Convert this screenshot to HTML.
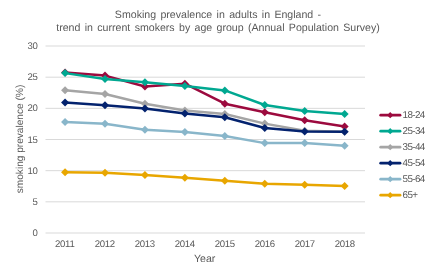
<!DOCTYPE html><html><head><meta charset="utf-8"><style>html,body{margin:0;padding:0;background:#fff;}svg{display:block;will-change:transform;}text{font-family:"Liberation Sans",sans-serif;fill:#595959;text-rendering:geometricPrecision;}</style></head><body>
<svg width="435" height="276" viewBox="0 0 435 276">
<rect width="435" height="276" fill="#fff"/>
<text x="218" y="17.8" font-size="10.6" text-anchor="middle" word-spacing="1.4">Smoking prevalence in adults in England -</text>
<text x="218" y="30.9" font-size="10.6" text-anchor="middle" word-spacing="1.4">trend in current smokers by age group (Annual Population Survey)</text>
<line x1="45.5" x2="365.0" y1="233.00" y2="233.00" stroke="#D9D9D9" stroke-width="1"/>
<text x="37.6" y="236.00" font-size="9.6" letter-spacing="-0.3" text-anchor="end">0</text>
<line x1="45.5" x2="365.0" y1="201.84" y2="201.84" stroke="#D9D9D9" stroke-width="1"/>
<text x="37.6" y="204.84" font-size="9.6" letter-spacing="-0.3" text-anchor="end">5</text>
<line x1="45.5" x2="365.0" y1="170.67" y2="170.67" stroke="#D9D9D9" stroke-width="1"/>
<text x="37.6" y="173.67" font-size="9.6" letter-spacing="-0.3" text-anchor="end">10</text>
<line x1="45.5" x2="365.0" y1="139.50" y2="139.50" stroke="#D9D9D9" stroke-width="1"/>
<text x="37.6" y="142.50" font-size="9.6" letter-spacing="-0.3" text-anchor="end">15</text>
<line x1="45.5" x2="365.0" y1="108.34" y2="108.34" stroke="#D9D9D9" stroke-width="1"/>
<text x="37.6" y="111.34" font-size="9.6" letter-spacing="-0.3" text-anchor="end">20</text>
<line x1="45.5" x2="365.0" y1="77.18" y2="77.18" stroke="#D9D9D9" stroke-width="1"/>
<text x="37.6" y="80.18" font-size="9.6" letter-spacing="-0.3" text-anchor="end">25</text>
<line x1="45.5" x2="365.0" y1="46.01" y2="46.01" stroke="#D9D9D9" stroke-width="1"/>
<text x="37.6" y="49.01" font-size="9.6" letter-spacing="-0.3" text-anchor="end">30</text>
<text x="64.75" y="247.0" font-size="9.6" letter-spacing="-0.3" text-anchor="middle">2011</text>
<text x="104.75" y="247.0" font-size="9.6" letter-spacing="-0.3" text-anchor="middle">2012</text>
<text x="144.75" y="247.0" font-size="9.6" letter-spacing="-0.3" text-anchor="middle">2013</text>
<text x="184.75" y="247.0" font-size="9.6" letter-spacing="-0.3" text-anchor="middle">2014</text>
<text x="224.75" y="247.0" font-size="9.6" letter-spacing="-0.3" text-anchor="middle">2015</text>
<text x="264.75" y="247.0" font-size="9.6" letter-spacing="-0.3" text-anchor="middle">2016</text>
<text x="304.75" y="247.0" font-size="9.6" letter-spacing="-0.3" text-anchor="middle">2017</text>
<text x="344.75" y="247.0" font-size="9.6" letter-spacing="-0.3" text-anchor="middle">2018</text>
<text x="204.6" y="261.8" font-size="10.6" text-anchor="middle">Year</text>
<text transform="translate(23.4,193.2) rotate(-90)" x="0" y="0" font-size="10.1">smoking prevalence</text>
<text transform="translate(23.4,100.6) rotate(-90)" x="0" y="0" font-size="10.4">(%)</text>
<polyline points="65.07,72.44 105.01,75.62 144.94,86.52 184.88,83.72 224.82,103.67 264.76,112.20 304.69,120.18 344.63,126.42" fill="none" stroke="#9C0A3E" stroke-width="2.5" stroke-linejoin="round" stroke-linecap="round"/>
<path d="M65.07 68.44L69.07 72.44L65.07 76.44L61.07 72.44Z" fill="#9C0A3E"/>
<path d="M105.01 71.62L109.01 75.62L105.01 79.62L101.01 75.62Z" fill="#9C0A3E"/>
<path d="M144.94 82.52L148.94 86.52L144.94 90.52L140.94 86.52Z" fill="#9C0A3E"/>
<path d="M184.88 79.72L188.88 83.72L184.88 87.72L180.88 83.72Z" fill="#9C0A3E"/>
<path d="M224.82 99.67L228.82 103.67L224.82 107.67L220.82 103.67Z" fill="#9C0A3E"/>
<path d="M264.76 108.20L268.76 112.20L264.76 116.20L260.76 112.20Z" fill="#9C0A3E"/>
<path d="M304.69 116.18L308.69 120.18L304.69 124.18L300.69 120.18Z" fill="#9C0A3E"/>
<path d="M344.63 122.42L348.63 126.42L344.63 130.42L340.63 126.42Z" fill="#9C0A3E"/>
<polyline points="65.07,73.12 105.01,79.04 144.94,82.16 184.88,85.90 224.82,90.45 264.76,105.04 304.69,111.02 344.63,113.95" fill="none" stroke="#00A891" stroke-width="2.5" stroke-linejoin="round" stroke-linecap="round"/>
<path d="M65.07 69.12L69.07 73.12L65.07 77.12L61.07 73.12Z" fill="#00A891"/>
<path d="M105.01 75.04L109.01 79.04L105.01 83.04L101.01 79.04Z" fill="#00A891"/>
<path d="M144.94 78.16L148.94 82.16L144.94 86.16L140.94 82.16Z" fill="#00A891"/>
<path d="M184.88 81.90L188.88 85.90L184.88 89.90L180.88 85.90Z" fill="#00A891"/>
<path d="M224.82 86.45L228.82 90.45L224.82 94.45L220.82 90.45Z" fill="#00A891"/>
<path d="M264.76 101.04L268.76 105.04L264.76 109.04L260.76 105.04Z" fill="#00A891"/>
<path d="M304.69 107.02L308.69 111.02L304.69 115.02L300.69 111.02Z" fill="#00A891"/>
<path d="M344.63 109.95L348.63 113.95L344.63 117.95L340.63 113.95Z" fill="#00A891"/>
<polyline points="65.07,90.26 105.01,94.00 144.94,103.79 184.88,110.58 224.82,113.95 264.76,123.61 304.69,130.78 344.63,131.71" fill="none" stroke="#A5A5A5" stroke-width="2.5" stroke-linejoin="round" stroke-linecap="round"/>
<path d="M65.07 86.26L69.07 90.26L65.07 94.26L61.07 90.26Z" fill="#A5A5A5"/>
<path d="M105.01 90.00L109.01 94.00L105.01 98.00L101.01 94.00Z" fill="#A5A5A5"/>
<path d="M144.94 99.79L148.94 103.79L144.94 107.79L140.94 103.79Z" fill="#A5A5A5"/>
<path d="M184.88 106.58L188.88 110.58L184.88 114.58L180.88 110.58Z" fill="#A5A5A5"/>
<path d="M224.82 109.95L228.82 113.95L224.82 117.95L220.82 113.95Z" fill="#A5A5A5"/>
<path d="M264.76 119.61L268.76 123.61L264.76 127.61L260.76 123.61Z" fill="#A5A5A5"/>
<path d="M304.69 126.78L308.69 130.78L304.69 134.78L300.69 130.78Z" fill="#A5A5A5"/>
<path d="M344.63 127.71L348.63 131.71L344.63 135.71L340.63 131.71Z" fill="#A5A5A5"/>
<polyline points="65.07,102.61 105.01,105.22 144.94,108.53 184.88,113.39 224.82,117.19 264.76,127.97 304.69,131.40 344.63,131.71" fill="none" stroke="#03226E" stroke-width="2.5" stroke-linejoin="round" stroke-linecap="round"/>
<path d="M65.07 98.61L69.07 102.61L65.07 106.61L61.07 102.61Z" fill="#03226E"/>
<path d="M105.01 101.22L109.01 105.22L105.01 109.22L101.01 105.22Z" fill="#03226E"/>
<path d="M144.94 104.53L148.94 108.53L144.94 112.53L140.94 108.53Z" fill="#03226E"/>
<path d="M184.88 109.39L188.88 113.39L184.88 117.39L180.88 113.39Z" fill="#03226E"/>
<path d="M224.82 113.19L228.82 117.19L224.82 121.19L220.82 117.19Z" fill="#03226E"/>
<path d="M264.76 123.97L268.76 127.97L264.76 131.97L260.76 127.97Z" fill="#03226E"/>
<path d="M304.69 127.40L308.69 131.40L304.69 135.40L300.69 131.40Z" fill="#03226E"/>
<path d="M344.63 127.71L348.63 131.71L344.63 135.71L340.63 131.71Z" fill="#03226E"/>
<polyline points="65.07,121.93 105.01,123.80 144.94,129.84 184.88,131.90 224.82,136.08 264.76,143.12 304.69,143.12 344.63,145.74" fill="none" stroke="#89B6CA" stroke-width="2.5" stroke-linejoin="round" stroke-linecap="round"/>
<path d="M65.07 117.93L69.07 121.93L65.07 125.93L61.07 121.93Z" fill="#89B6CA"/>
<path d="M105.01 119.80L109.01 123.80L105.01 127.80L101.01 123.80Z" fill="#89B6CA"/>
<path d="M144.94 125.84L148.94 129.84L144.94 133.84L140.94 129.84Z" fill="#89B6CA"/>
<path d="M184.88 127.90L188.88 131.90L184.88 135.90L180.88 131.90Z" fill="#89B6CA"/>
<path d="M224.82 132.08L228.82 136.08L224.82 140.08L220.82 136.08Z" fill="#89B6CA"/>
<path d="M264.76 139.12L268.76 143.12L264.76 147.12L260.76 143.12Z" fill="#89B6CA"/>
<path d="M304.69 139.12L308.69 143.12L304.69 147.12L300.69 143.12Z" fill="#89B6CA"/>
<path d="M344.63 141.74L348.63 145.74L344.63 149.74L340.63 145.74Z" fill="#89B6CA"/>
<polyline points="65.07,172.23 105.01,172.85 144.94,175.03 184.88,177.65 224.82,180.77 264.76,183.76 304.69,184.69 344.63,185.94" fill="none" stroke="#E8A600" stroke-width="2.5" stroke-linejoin="round" stroke-linecap="round"/>
<path d="M65.07 168.23L69.07 172.23L65.07 176.23L61.07 172.23Z" fill="#E8A600"/>
<path d="M105.01 168.85L109.01 172.85L105.01 176.85L101.01 172.85Z" fill="#E8A600"/>
<path d="M144.94 171.03L148.94 175.03L144.94 179.03L140.94 175.03Z" fill="#E8A600"/>
<path d="M184.88 173.65L188.88 177.65L184.88 181.65L180.88 177.65Z" fill="#E8A600"/>
<path d="M224.82 176.77L228.82 180.77L224.82 184.77L220.82 180.77Z" fill="#E8A600"/>
<path d="M264.76 179.76L268.76 183.76L264.76 187.76L260.76 183.76Z" fill="#E8A600"/>
<path d="M304.69 180.69L308.69 184.69L304.69 188.69L300.69 184.69Z" fill="#E8A600"/>
<path d="M344.63 181.94L348.63 185.94L344.63 189.94L340.63 185.94Z" fill="#E8A600"/>
<line x1="380.7" x2="400.0" y1="115.20" y2="115.20" stroke="#9C0A3E" stroke-width="2.8" stroke-linecap="round"/>
<path d="M390.20 112.10L393.30 115.20L390.20 118.30L387.10 115.20Z" fill="#9C0A3E"/>
<text x="402.5" y="118.20" font-size="9.9" letter-spacing="-0.6">18-24</text>
<line x1="380.7" x2="400.0" y1="131.20" y2="131.20" stroke="#00A891" stroke-width="2.8" stroke-linecap="round"/>
<path d="M390.20 128.10L393.30 131.20L390.20 134.30L387.10 131.20Z" fill="#00A891"/>
<text x="402.5" y="134.20" font-size="9.9" letter-spacing="-0.6">25-34</text>
<line x1="380.7" x2="400.0" y1="147.20" y2="147.20" stroke="#A5A5A5" stroke-width="2.8" stroke-linecap="round"/>
<path d="M390.20 144.10L393.30 147.20L390.20 150.30L387.10 147.20Z" fill="#A5A5A5"/>
<text x="402.5" y="150.20" font-size="9.9" letter-spacing="-0.6">35-44</text>
<line x1="380.7" x2="400.0" y1="163.20" y2="163.20" stroke="#03226E" stroke-width="2.8" stroke-linecap="round"/>
<path d="M390.20 160.10L393.30 163.20L390.20 166.30L387.10 163.20Z" fill="#03226E"/>
<text x="402.5" y="166.20" font-size="9.9" letter-spacing="-0.6">45-54</text>
<line x1="380.7" x2="400.0" y1="179.20" y2="179.20" stroke="#89B6CA" stroke-width="2.8" stroke-linecap="round"/>
<path d="M390.20 176.10L393.30 179.20L390.20 182.30L387.10 179.20Z" fill="#89B6CA"/>
<text x="402.5" y="182.20" font-size="9.9" letter-spacing="-0.6">55-64</text>
<line x1="380.7" x2="400.0" y1="195.20" y2="195.20" stroke="#E8A600" stroke-width="2.8" stroke-linecap="round"/>
<path d="M390.20 192.10L393.30 195.20L390.20 198.30L387.10 195.20Z" fill="#E8A600"/>
<text x="402.5" y="198.20" font-size="9.9" letter-spacing="-0.6">65+</text>
</svg></body></html>
